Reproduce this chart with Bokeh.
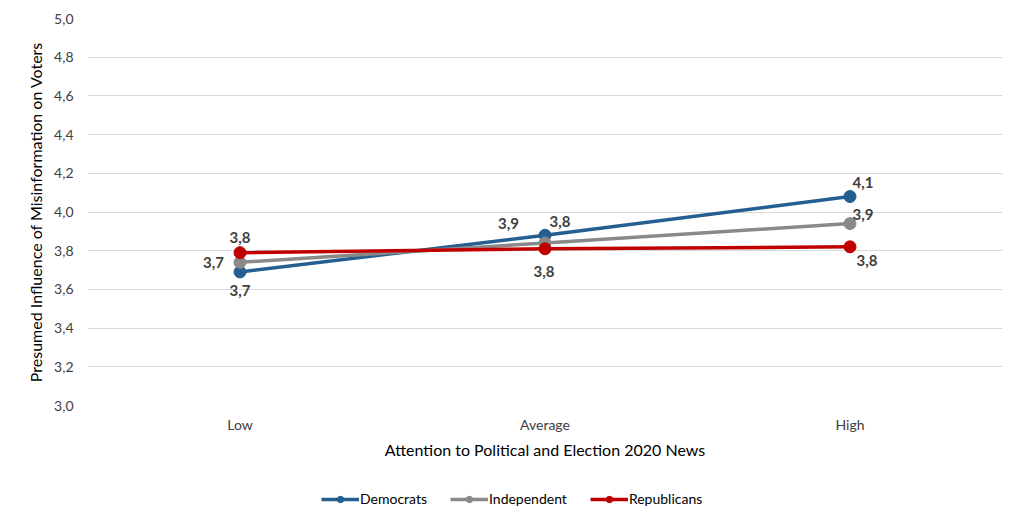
from bokeh.plotting import figure
from bokeh.layouts import column
from bokeh.models import ColumnDataSource, FixedTicker, CustomJSTickFormatter, Legend, LegendItem
from bokeh.core.properties import value
from bokeh.embed import file_html
from bokeh.resources import INLINE

categories = ["Low", "Average", "High"]
democrats = [3.69, 3.88, 4.08]
independent = [3.74, 3.84, 3.94]
republicans = [3.79, 3.81, 3.82]
series_names = ["Democrats", "Independent", "Republicans"]
y_ticks = [3.0, 3.2, 3.4, 3.6, 3.8, 4.0, 4.2, 4.4, 4.6, 4.8, 5.0]

colors = ["#255E91", "#898989", "#C00000"]
# label offsets (screen px) per series per category
label_dx = [[0, -26, 13], [-16, 15, 13], [0, -1, 17]]
label_dy = [[19, -12, -14], [0, -21, -9], [-15, 23, 14]]
label_align = [["center", "right", "center"], ["right", "center", "center"],
               ["center", "center", "center"]]

FONT = "Lato"
TXT = "#404040"

p = figure(frame_width=915, frame_height=387, x_range=categories, y_range=(3.0, 5.0),
           output_backend="svg", toolbar_location=None,
           min_border_left=87, min_border_right=22, min_border_top=18, min_border_bottom=70)
p.outline_line_color = None
p.background_fill_color = "white"

all_series = [democrats, independent, republicans]
for name, vals, col in zip(series_names, all_series, colors):
    src = ColumnDataSource(dict(x=categories, y=vals))
    p.line("x", "y", source=src, line_color=col, line_width=3.5)
    p.scatter("x", "y", source=src, size=12, fill_color=col, line_color=col)

for i, vals in enumerate(all_series):
    labels = [f"{v:.1f}".replace(".", ",") for v in vals]
    src = ColumnDataSource(dict(x=categories, y=vals, t=labels,
                                dx=label_dx[i], dy=label_dy[i], al=label_align[i]))
    p.text("x", "y", text="t", source=src, x_offset="dx", y_offset="dy",
           text_align="al", text_baseline="middle",
           text_font=value(FONT), text_font_style="bold", text_font_size="15px",
           text_color=TXT)

p.yaxis.ticker = FixedTicker(ticks=y_ticks)
p.yaxis.formatter = CustomJSTickFormatter(code="return tick.toFixed(1).replace('.', ',');")
p.ygrid.grid_line_color = "#D9D9D9"
p.ygrid.ticker = FixedTicker(ticks=y_ticks)
p.xgrid.grid_line_color = None

for ax in (p.xaxis[0], p.yaxis[0]):
    ax.axis_line_color = None
    ax.major_tick_line_color = None
    ax.minor_tick_line_color = None
    ax.major_label_text_font = FONT
    ax.major_label_text_font_size = "14px"
    ax.major_label_text_color = TXT
    ax.axis_label_text_font = FONT
    ax.axis_label_text_font_size = "16px"
    ax.axis_label_text_font_style = "normal"
    ax.axis_label_text_color = "#000000"

p.yaxis.axis_label = "Presumed Influence of Misinformation on Voters"
p.xaxis.axis_label = "Attention to Political and Election 2020 News"
p.yaxis.major_label_standoff = 8
p.yaxis.axis_label_standoff = 6
p.xaxis.major_label_standoff = 4
p.xaxis.axis_label_standoff = 4

# legend strip below the chart (series drawn outside its visible range, only the legend shows)
lg = figure(frame_width=1024, frame_height=48, x_range=categories, y_range=(0, 1),
            output_backend="svg", toolbar_location=None,
            min_border_left=0, min_border_right=0, min_border_top=0, min_border_bottom=0)
lg.axis.visible = False
lg.grid.grid_line_color = None
lg.outline_line_color = None
items = []
for name, vals, col in zip(series_names, all_series, colors):
    lsrc = ColumnDataSource(dict(x=categories, y=vals))
    l = lg.line("x", "y", source=lsrc, line_color=col, line_width=3.5)
    s = lg.scatter("x", "y", source=lsrc, size=12, fill_color=col, line_color=col)
    items.append(LegendItem(label=name, renderers=[l, s]))

legend = Legend(items=items, orientation="horizontal", location=(321, 16),
                glyph_width=38, glyph_height=16, label_text_font=FONT,
                label_text_font_size="14px", label_text_color="#000000",
                spacing=23, label_standoff=1, border_line_color=None,
                background_fill_alpha=0, padding=0, margin=0)
lg.add_layout(legend, "center")

layout = column(p, lg, spacing=0)
open("out.html", "w").write(file_html(layout, INLINE))
